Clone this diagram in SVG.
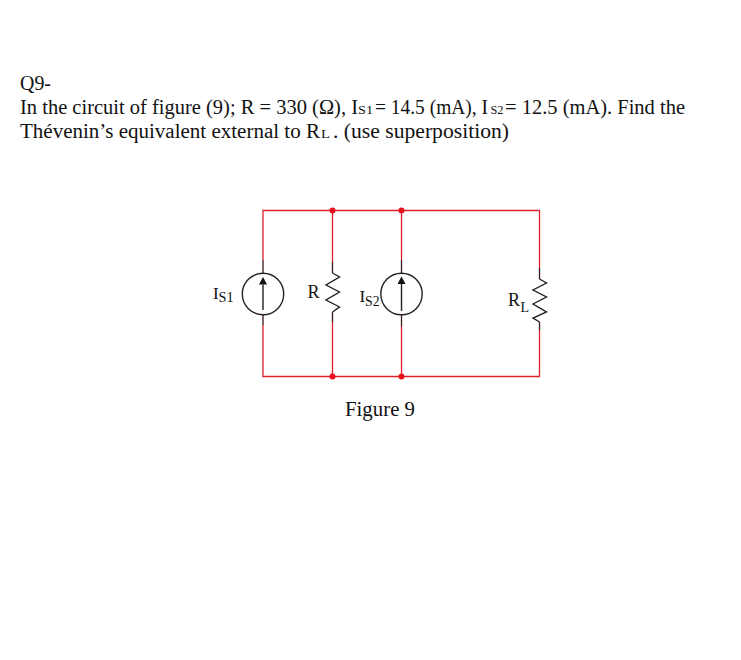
<svg xmlns="http://www.w3.org/2000/svg" width="741" height="660" viewBox="0 0 741 660">
<style>
.t{font-family:"Liberation Serif",serif;fill:#111}
.q{font-size:20.5px}
.sub{font-size:14px}
.tiny{font-size:13px}
.w{fill:none;stroke:#e0202c;stroke-width:1.3}
.s{fill:none;stroke:#3a1a1a;stroke-width:1.3}
.b{fill:none;stroke:#222;stroke-width:1.4}
.d{fill:#e8101c}
</style>
<defs>
<marker id="arr" markerWidth="8" markerHeight="8" refX="0" refY="4" orient="auto" markerUnits="userSpaceOnUse"><path d="M0,0 L7.5,4 L0,8 Z" fill="#111"/></marker>
</defs>
<rect width="741" height="660" fill="#fff"/>
<g id="question">
<text class="t q" x="20" y="90" textLength="31" lengthAdjust="spacingAndGlyphs">Q9-</text>
<text class="t q" x="20" y="114" textLength="338" lengthAdjust="spacingAndGlyphs">In the circuit of figure (9); R = 330 (Ω), I</text>
<text class="t tiny" x="358" y="114" textLength="15" lengthAdjust="spacingAndGlyphs">S1</text>
<text class="t q" x="375" y="114" textLength="113" lengthAdjust="spacingAndGlyphs">= 14.5 (mA), I</text>
<text class="t tiny" x="490.500" y="114" textLength="13" lengthAdjust="spacingAndGlyphs">S2</text>
<text class="t q" x="505" y="114" textLength="180" lengthAdjust="spacingAndGlyphs">= 12.5 (mA). Find the</text>
<text class="t q" x="20" y="138" textLength="300" lengthAdjust="spacingAndGlyphs">Thévenin’s equivalent external to R</text>
<text class="t tiny" x="321" y="138" textLength="9" lengthAdjust="spacingAndGlyphs">L</text>
<text class="t q" x="333" y="138" textLength="176" lengthAdjust="spacingAndGlyphs">. (use superposition)</text>
</g>
<g id="connectors">
<path class="w" d="M263,260 V210.5 H539.5 V268"/>
<path class="w" d="M263,325 V376.5 H539.5 V330"/>
<path class="w" d="M332.5,210.5 V262"/>
<path class="w" d="M332.5,322 V376.5"/>
<path class="w" d="M401.5,210.5 V260"/>
<path class="w" d="M401.5,326 V376.5"/>
<path class="s" d="M263,260 V273.5 M263,314.5 V325 M401.5,260 V273.5 M401.5,314.5 V326 M332.5,262 V273 M332.5,312 V322 M539.5,268 V279 M539.5,322 V330"/>
</g>
<g id="node-j1"><circle class="d" cx="332.5" cy="210.5" r="3"/></g>
<g id="node-j2"><circle class="d" cx="401.5" cy="210.5" r="3"/></g>
<g id="node-j3"><circle class="d" cx="332.5" cy="376.5" r="3"/></g>
<g id="node-j4"><circle class="d" cx="401.5" cy="376.5" r="3"/></g>
<g id="source-is1">
<circle class="b" cx="263" cy="294" r="20.7"/>
<path class="b" d="M263,310 V284.5" marker-end="url(#arr)"/>
<text class="t" font-size="17" x="213" y="299">I</text>
<text class="t sub" x="218.500" y="302" textLength="15" lengthAdjust="spacingAndGlyphs">S1</text>
</g>
<g id="resistor-r">
<path class="b" d="M332.5,273 L339.500,277 L326,285 L339.500,292 L326,300 L339.500,307 L332.5,312"/>
<text class="t" font-size="18" x="307.500" y="298">R</text>
</g>
<g id="source-is2">
<circle class="b" cx="401.500" cy="294" r="20.7"/>
<path class="b" d="M401.500,311 V284" marker-end="url(#arr)"/>
<text class="t" font-size="17" x="359.500" y="302">I</text>
<text class="t sub" x="365" y="306" textLength="14.500" lengthAdjust="spacingAndGlyphs">S2</text>
</g>
<g id="resistor-rl">
<path class="b" d="M539.500,279 L546.500,283 L533,290 L546.500,297 L533,304 L546.500,312 L533,318 L539.500,322"/>
<text class="t" font-size="18" x="508" y="306">R</text>
<text class="t sub" x="520.500" y="312">L</text>
</g>
<g id="caption"><text class="t" font-size="20.5" x="345" y="416" textLength="70" lengthAdjust="spacingAndGlyphs">Figure 9</text></g>
</svg>
